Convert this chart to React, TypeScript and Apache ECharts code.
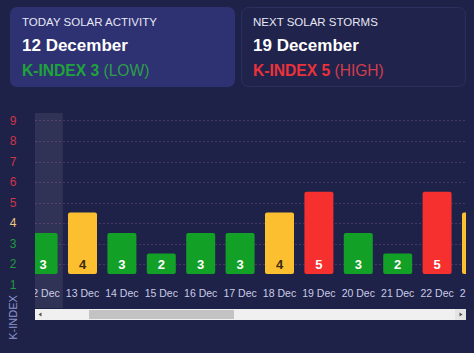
import React, { useEffect, useRef } from 'react';
import * as echarts from 'echarts';

const categories = ['12 Dec', '13 Dec', '14 Dec', '15 Dec', '16 Dec', '17 Dec', '18 Dec', '19 Dec', '20 Dec', '21 Dec', '22 Dec', '23 Dec'];
const kIndex = [3, 4, 3, 2, 3, 3, 4, 5, 3, 2, 5, 4];
const highlightIndex = 0;
const yMin = 1;
const yMax = 9;
const todayTitle = 'TODAY SOLAR ACTIVITY';
const todayDate = '12 December';
const todayK = 'K-INDEX 3';
const todayLevel = '(LOW)';
const stormTitle = 'NEXT SOLAR STORMS';
const stormDate = '19 December';
const stormK = 'K-INDEX 5';
const stormLevel = '(HIGH)';
const axisName = 'K-INDEX';

const FONT = 'Liberation Sans, Arial, sans-serif';
const BG = '#1f2248';

const barColor = (v: number) => (v >= 5 ? '#f5302f' : v === 4 ? '#fbbf30' : '#13a026');
const tickColor = (v: number) => (v >= 5 ? '#cf3548' : v === 4 ? '#ecc77c' : '#1f9a3f');

export default function App() {
  const ref = useRef<HTMLDivElement>(null);
  useEffect(() => {
    if (!ref.current) return;
    const chart = echarts.init(ref.current, undefined, { renderer: 'svg' });
    const option: any = {
      animation: false,
      backgroundColor: BG,
      textStyle: { fontFamily: FONT },
      grid: [
        { left: 35, width: 431, top: 120.7, height: 164.3, outerBoundsMode: 'none', containLabel: false },
        { left: 35, width: 431, top: 120.7, height: 143.8, outerBoundsMode: 'none', containLabel: false },
        { left: 23.4, width: 472.8, top: 109.7, height: 164.3, outerBoundsMode: 'none', containLabel: false },
        { left: 23.4, width: 472.8, top: 113, height: 195, outerBoundsMode: 'none', containLabel: false },
      ],
      xAxis: [
        { gridIndex: 0, type: 'value', show: false, min: 0, max: 1 },
        { gridIndex: 1, type: 'value', show: false, min: 0, max: 1 },
        {
          gridIndex: 2,
          type: 'category',
          data: categories,
          axisLine: { show: false },
          axisTick: { show: false },
          axisLabel: { color: '#c9cce6', fontSize: 10.5, fontFamily: FONT, margin: 13, interval: 0, hideOverlap: false },
        },
        { gridIndex: 3, type: 'category', data: categories, show: false },
      ],
      yAxis: [
        {
          gridIndex: 0,
          type: 'value',
          min: yMin,
          max: yMax,
          interval: 1,
          z: 200,
          axisLine: { show: false },
          axisTick: { show: false },
          splitLine: { show: false },
          axisLabel: {
            align: 'center',
            margin: 22,
            fontSize: 12,
            fontFamily: FONT,
            color: (v: number) => tickColor(Number(v)),
          },
        },
        {
          gridIndex: 1,
          type: 'value',
          min: 2,
          max: yMax,
          interval: 1,
          axisLine: { show: false },
          axisTick: { show: false },
          axisLabel: { show: false },
          splitLine: { show: true, lineStyle: { color: '#4a3462', type: [2, 2], width: 1 } },
        },
        { gridIndex: 2, type: 'value', min: yMin, max: yMax, startValue: yMin, show: false },
        { gridIndex: 3, type: 'value', min: 0, max: 1, show: false },
      ],
      series: [
        {
          type: 'bar',
          xAxisIndex: 3,
          yAxisIndex: 3,
          silent: true,
          z: 1,
          barWidth: '100%',
          itemStyle: { color: 'rgba(255,255,255,0.08)' },
          data: categories.map((_, i) => (i === highlightIndex ? 1 : '-')),
        },
        {
          type: 'bar',
          xAxisIndex: 2,
          yAxisIndex: 2,
          z: 2,
          barWidth: 29,
          clip: true,
          label: {
            show: true,
            position: 'insideBottom',
            distance: 3,
            fontSize: 13,
            fontWeight: 'bold',
            fontFamily: FONT,
          },
          data: kIndex.map((v) => ({
            value: v,
            itemStyle: { color: barColor(v), borderRadius: 2 },
            label: { color: v === 4 ? '#3b2a10' : '#ffffff' },
          })),
        },
      ],
      graphic: [
        { type: 'rect', z: 100, shape: { x: 0, y: 96, width: 35, height: 230 }, style: { fill: BG } },
        { type: 'rect', z: 100, shape: { x: 466, y: 96, width: 10, height: 230 }, style: { fill: BG } },
        { type: 'rect', z: 100, shape: { x: 10, y: 7, width: 225, height: 80, r: 7 }, style: { fill: '#2e3272' } },
        {
          type: 'rect', z: 100,
          shape: { x: 241.5, y: 7.5, width: 224, height: 79, r: 7 },
          style: { fill: '#20234b', stroke: '#2c305e', lineWidth: 1 },
        },
        { type: 'text', z: 101, x: 22, y: 22, style: { text: todayTitle, fill: '#e6e7f5', fontSize: 11.5, fontFamily: FONT, verticalAlign: 'middle' } },
        { type: 'text', z: 101, x: 22, y: 45, style: { text: todayDate, fill: '#ffffff', fontSize: 17, fontWeight: 'bold', fontFamily: FONT, verticalAlign: 'middle' } },
        {
          type: 'text', z: 101, x: 22, y: 70,
          style: {
            text: `{b|${todayK}} {n|${todayLevel}}`,
            verticalAlign: 'middle',
            fontSize: 15.6,
            fontFamily: FONT,
            rich: {
              b: { fill: '#1fa33b', fontSize: 15.6, fontWeight: 'bold', fontFamily: FONT },
              n: { fill: '#2f9d4a', fontSize: 15.6, fontFamily: FONT },
            },
          },
        },
        { type: 'text', z: 101, x: 253, y: 22, style: { text: stormTitle, fill: '#e6e7f5', fontSize: 11.5, fontFamily: FONT, verticalAlign: 'middle' } },
        { type: 'text', z: 101, x: 253, y: 45, style: { text: stormDate, fill: '#ffffff', fontSize: 17, fontWeight: 'bold', fontFamily: FONT, verticalAlign: 'middle' } },
        {
          type: 'text', z: 101, x: 253, y: 70,
          style: {
            text: `{b|${stormK}} {n|${stormLevel}}`,
            verticalAlign: 'middle',
            fontSize: 15.6,
            fontFamily: FONT,
            rich: {
              b: { fill: '#ea323b', fontSize: 15.6, fontWeight: 'bold', fontFamily: FONT },
              n: { fill: '#d23e4e', fontSize: 15.6, fontFamily: FONT },
            },
          },
        },
        {
          type: 'text', z: 200, x: 13, y: 317.5, rotation: Math.PI / 2,
          style: { text: axisName, fill: '#8d96cf', fontSize: 11, fontFamily: FONT, align: 'center', verticalAlign: 'middle' },
        },
        { type: 'rect', z: 100, shape: { x: 35, y: 309, width: 431, height: 11 }, style: { fill: '#f0f0f0' } },
        { type: 'rect', z: 101, shape: { x: 89, y: 310, width: 145, height: 9 }, style: { fill: '#c3c3c3' } },
        { type: 'rect', z: 101, shape: { x: 455, y: 309, width: 11, height: 11 }, style: { fill: '#e4e4e4' } },
        { type: 'polygon', z: 102, shape: { points: [[38.5, 314.5], [41.5, 312.5], [41.5, 316.5]] }, style: { fill: '#505050' } },
        { type: 'polygon', z: 102, shape: { points: [[462.5, 314.5], [459.5, 312.5], [459.5, 316.5]] }, style: { fill: '#505050' } },
      ],
    };
    chart.setOption(option);
    return () => chart.dispose();
  }, []);
  return <div ref={ref} style={{ position: 'fixed', left: 0, top: 0, width: 474, height: 353 }} />;
}
